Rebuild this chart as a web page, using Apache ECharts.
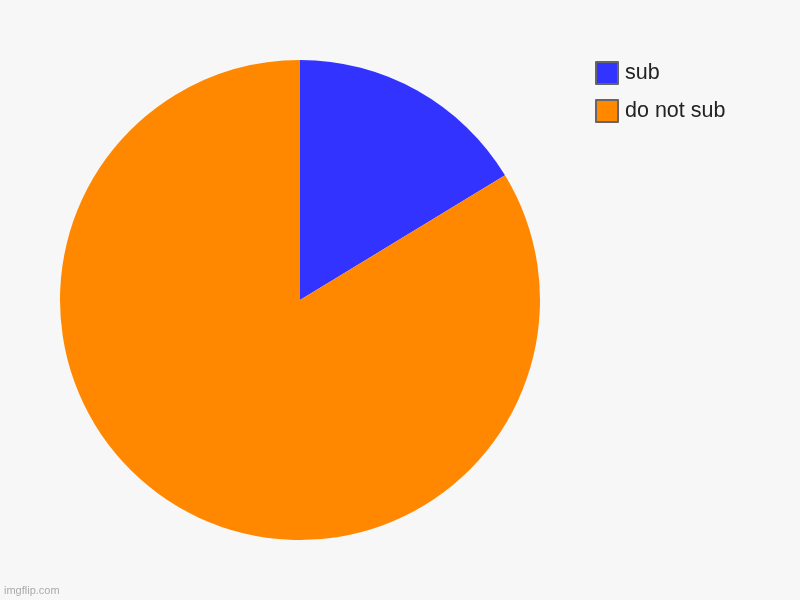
<!DOCTYPE html>
<html>
<head>
<meta charset="utf-8">
<script src="https://cdn.jsdelivr.net/npm/echarts@6/dist/echarts.min.js"></script>
<style>
html,body{margin:0;padding:0;background:#f7f7f7;}
#c{width:800px;height:600px;}
</style>
</head>
<body>
<div id="c"></div>
<script>
const categories = ["sub", "do not sub"];
const values = [16.3, 83.7];
const colors = ["#3333ff", "#ff8800"];

const chart = echarts.init(document.getElementById('c'));
chart.setOption({
  backgroundColor: '#f7f7f7',
  animation: false,
  legend: {
    orient: 'vertical',
    left: 595,
    top: 61,
    padding: 0,
    icon: 'rect',
    itemWidth: 22,
    itemHeight: 22,
    itemGap: 14,
    itemStyle: { borderColor: '#666666', borderWidth: 2 },
    textStyle: { fontFamily: 'Liberation Sans, Arial, sans-serif', fontSize: 21.5, lineHeight: 22, color: '#222222', padding: [0, 0, 0, 2] },
    data: categories
  },
  graphic: [{
    type: 'text',
    left: 4,
    top: 585,
    style: { text: 'imgflip.com', fontFamily: 'Liberation Sans, Arial, sans-serif', fontSize: 11, fill: '#aaaaaa' }
  }],
  series: [{
    type: 'pie',
    center: [300, 300],
    radius: 240,
    startAngle: 90,
    clockwise: true,
    label: { show: false },
    labelLine: { show: false },
    emphasis: { disabled: true },
    itemStyle: { borderWidth: 0 },
    data: categories.map((n, i) => ({ name: n, value: values[i], itemStyle: { color: colors[i] } }))
  }]
});
</script>
</body>
</html>
